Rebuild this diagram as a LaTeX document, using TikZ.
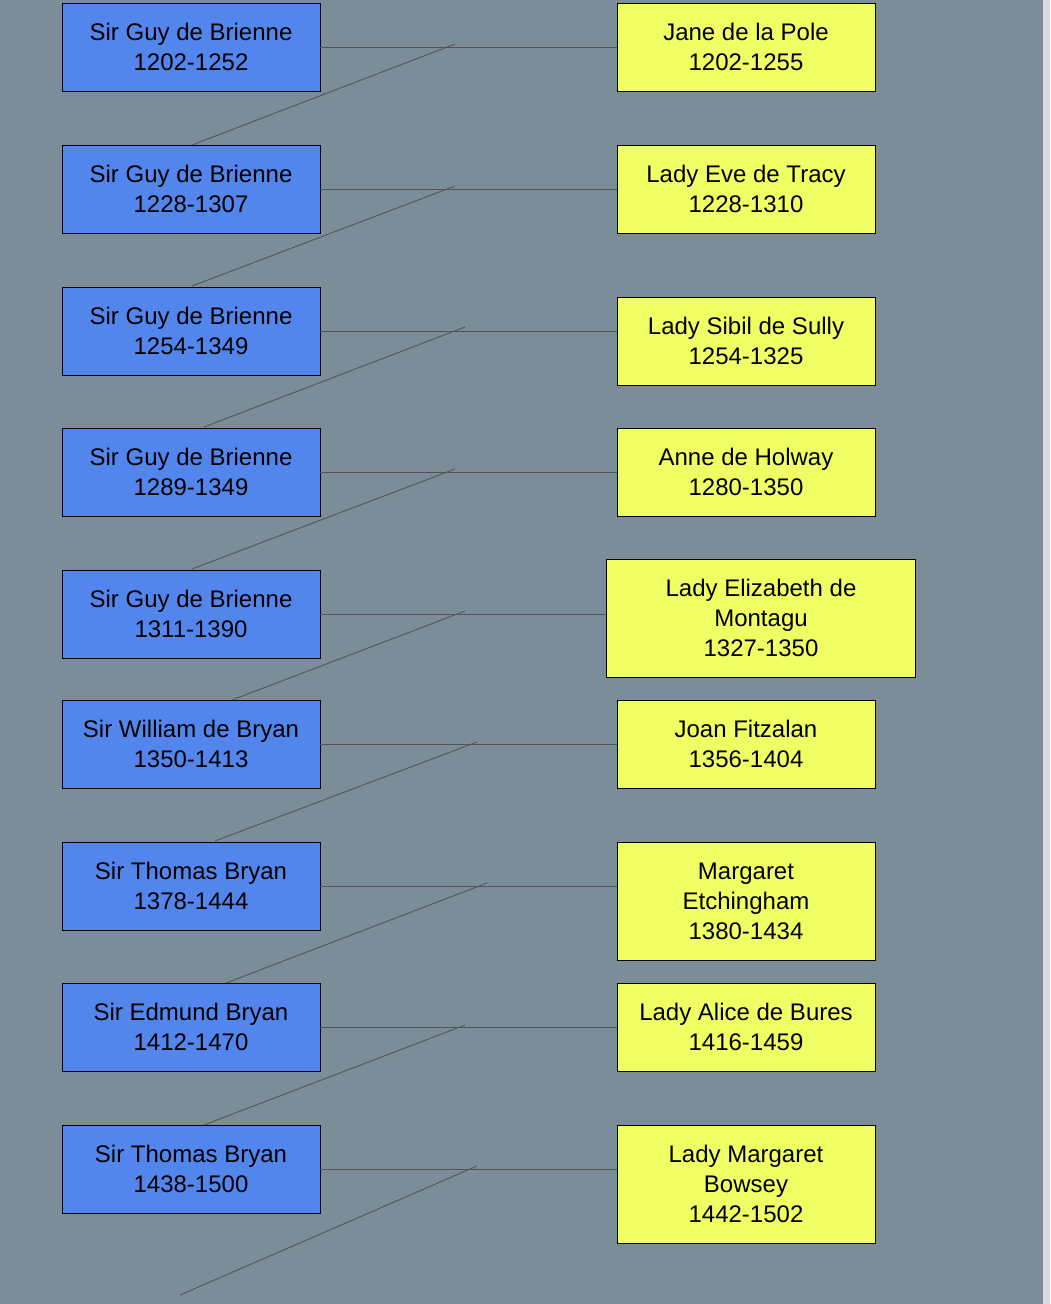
\documentclass[tikz,border=0pt]{standalone}
\usepackage{fontspec}
\setmainfont{Liberation Sans}
\usetikzlibrary{calc}

\definecolor{bgslate}{RGB}{123,141,153}
\definecolor{edgegray}{RGB}{215,218,222}
\definecolor{manblue}{RGB}{83,134,236}
\definecolor{wifeyellow}{RGB}{240,255,100}
\definecolor{linkgray}{RGB}{85,85,85}

\tikzset{
  person/.style={draw=black,thin,minimum width=258pt,minimum height=88pt,align=center,
    font=\fontsize{24}{30}\selectfont,inner sep=2pt},
  man/.style={person,fill=manblue},
  woman/.style={person,fill=wifeyellow},
  link/.style={draw=linkgray,line width=0.9pt}
}

\begin{document}
\begin{tikzpicture}[x=1pt,y=-1pt]
  \fill[bgslate] (0,0) rectangle (1050,1304);
  \fill[edgegray] (1043,0) rectangle (1050,1304);
  \useasboundingbox (0,0) rectangle (1050,1304);

  % husbands
  \node[man] (m1) at (191,47) {Sir Guy de Brienne\\1202-1252};
  \node[man] (m2) at (191,189) {Sir Guy de Brienne\\1228-1307};
  \node[man] (m3) at (191,331) {Sir Guy de Brienne\\1254-1349};
  \node[man] (m4) at (191,472) {Sir Guy de Brienne\\1289-1349};
  \node[man] (m5) at (191,614) {Sir Guy de Brienne\\1311-1390};
  \node[man] (m6) at (191,744) {Sir William de Bryan\\1350-1413};
  \node[man] (m7) at (191,886) {Sir Thomas Bryan\\1378-1444};
  \node[man] (m8) at (191,1027) {Sir Edmund Bryan\\1412-1470};
  \node[man] (m9) at (191,1169) {Sir Thomas Bryan\\1438-1500};

  % wives
  \node[woman] (w1) at (746,47) {Jane de la Pole\\1202-1255};
  \node[woman] (w2) at (746,189) {Lady Eve de Tracy\\1228-1310};
  \node[woman] (w3) at (746,341) {Lady Sibil de Sully\\1254-1325};
  \node[woman] (w4) at (746,472) {Anne de Holway\\1280-1350};
  \node[woman,minimum width=309pt,minimum height=118pt] (w5) at (761,618) {Lady Elizabeth de\\Montagu\\1327-1350};
  \node[woman] (w6) at (746,744) {Joan Fitzalan\\1356-1404};
  \node[woman,minimum height=118pt] (w7) at (746,901) {Margaret\\Etchingham\\1380-1434};
  \node[woman] (w8) at (746,1027) {Lady Alice de Bures\\1416-1459};
  \node[woman,minimum height=118pt] (w9) at (746,1184) {Lady Margaret\\Bowsey\\1442-1502};

  % marriage lines
  \foreach \i in {1,...,9}
    \draw[link] (m\i.east) -- (m\i.east -| w\i.west);

  % descent lines
  \coordinate (j1) at (455,44);  \coordinate (e1) at (192,145);
  \coordinate (j2) at (455,186); \coordinate (e2) at (192,286);
  \coordinate (j3) at (465,327); \coordinate (e3) at (204,427);
  \coordinate (j4) at (455,469); \coordinate (e4) at (192,569);
  \coordinate (j5) at (465,611); \coordinate (e5) at (232,700);
  \coordinate (j6) at (477,742); \coordinate (e6) at (215,841);
  \coordinate (j7) at (487,883); \coordinate (e7) at (226,983);
  \coordinate (j8) at (465,1025); \coordinate (e8) at (204,1125);
  \coordinate (j9) at (477,1166); \coordinate (e9) at (180,1295);
  \foreach \i in {1,...,9}
    \draw[link] (j\i) -- (e\i);
\end{tikzpicture}
\end{document}
